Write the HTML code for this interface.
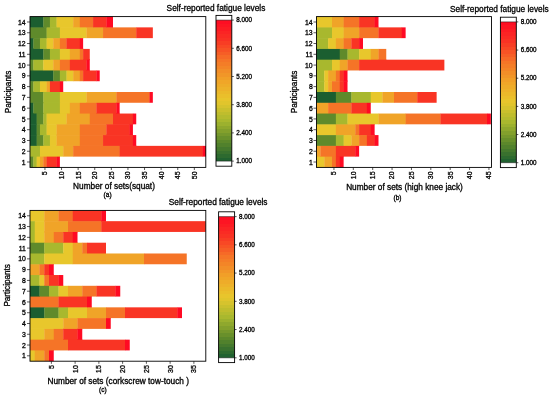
<!DOCTYPE html>
<html><head><meta charset="utf-8"><title>Self-reported fatigue levels</title>
<style>html,body{margin:0;padding:0;background:#fff}body{width:550px;height:396px;overflow:hidden}</style></head>
<body>
<svg width="550" height="396" viewBox="0 0 550 396" style="font-family:'Liberation Sans',Arial,sans-serif;display:block" fill="#000" stroke="#000" stroke-width="0.3" paint-order="stroke">
<defs><linearGradient id="cbg" x1="0" y1="0" x2="0" y2="1"><stop offset="0.00%" stop-color="#fe0e23"/><stop offset="2.50%" stop-color="#fe0e23"/><stop offset="2.50%" stop-color="#fd1523"/><stop offset="5.00%" stop-color="#fd1523"/><stop offset="5.00%" stop-color="#fc1c23"/><stop offset="7.50%" stop-color="#fc1c23"/><stop offset="7.50%" stop-color="#fb2424"/><stop offset="10.00%" stop-color="#fb2424"/><stop offset="10.00%" stop-color="#fa2b24"/><stop offset="12.50%" stop-color="#fa2b24"/><stop offset="12.50%" stop-color="#f93224"/><stop offset="15.00%" stop-color="#f93224"/><stop offset="15.00%" stop-color="#f83d24"/><stop offset="17.50%" stop-color="#f83d24"/><stop offset="17.50%" stop-color="#f84825"/><stop offset="20.00%" stop-color="#f84825"/><stop offset="20.00%" stop-color="#f75325"/><stop offset="22.50%" stop-color="#f75325"/><stop offset="22.50%" stop-color="#f65e26"/><stop offset="25.00%" stop-color="#f65e26"/><stop offset="25.00%" stop-color="#f66a27"/><stop offset="27.50%" stop-color="#f66a27"/><stop offset="27.50%" stop-color="#f57527"/><stop offset="30.00%" stop-color="#f57527"/><stop offset="30.00%" stop-color="#f47d27"/><stop offset="32.50%" stop-color="#f47d27"/><stop offset="32.50%" stop-color="#f38527"/><stop offset="35.00%" stop-color="#f38527"/><stop offset="35.00%" stop-color="#f28e28"/><stop offset="37.50%" stop-color="#f28e28"/><stop offset="37.50%" stop-color="#f19628"/><stop offset="40.00%" stop-color="#f19628"/><stop offset="40.00%" stop-color="#f19f28"/><stop offset="42.50%" stop-color="#f19f28"/><stop offset="42.50%" stop-color="#f0a628"/><stop offset="45.00%" stop-color="#f0a628"/><stop offset="45.00%" stop-color="#eeac29"/><stop offset="47.50%" stop-color="#eeac29"/><stop offset="47.50%" stop-color="#edb22a"/><stop offset="50.00%" stop-color="#edb22a"/><stop offset="50.00%" stop-color="#ebb92a"/><stop offset="52.50%" stop-color="#ebb92a"/><stop offset="52.50%" stop-color="#eabf2b"/><stop offset="55.00%" stop-color="#eabf2b"/><stop offset="55.00%" stop-color="#e8c52c"/><stop offset="57.50%" stop-color="#e8c52c"/><stop offset="57.50%" stop-color="#e1c52c"/><stop offset="60.00%" stop-color="#e1c52c"/><stop offset="60.00%" stop-color="#d6c32d"/><stop offset="62.50%" stop-color="#d6c32d"/><stop offset="62.50%" stop-color="#cac02d"/><stop offset="65.00%" stop-color="#cac02d"/><stop offset="65.00%" stop-color="#bfbd2d"/><stop offset="67.50%" stop-color="#bfbd2d"/><stop offset="67.50%" stop-color="#b4bb2e"/><stop offset="70.00%" stop-color="#b4bb2e"/><stop offset="70.00%" stop-color="#a9b82e"/><stop offset="72.50%" stop-color="#a9b82e"/><stop offset="72.50%" stop-color="#9cb12e"/><stop offset="75.00%" stop-color="#9cb12e"/><stop offset="75.00%" stop-color="#8fa82d"/><stop offset="77.50%" stop-color="#8fa82d"/><stop offset="77.50%" stop-color="#83a02c"/><stop offset="80.00%" stop-color="#83a02c"/><stop offset="80.00%" stop-color="#76982c"/><stop offset="82.50%" stop-color="#76982c"/><stop offset="82.50%" stop-color="#69902b"/><stop offset="85.00%" stop-color="#69902b"/><stop offset="85.00%" stop-color="#5c882b"/><stop offset="87.50%" stop-color="#5c882b"/><stop offset="87.50%" stop-color="#51812c"/><stop offset="90.00%" stop-color="#51812c"/><stop offset="90.00%" stop-color="#45792d"/><stop offset="92.50%" stop-color="#45792d"/><stop offset="92.50%" stop-color="#39712e"/><stop offset="95.00%" stop-color="#39712e"/><stop offset="95.00%" stop-color="#2d6a2f"/><stop offset="97.50%" stop-color="#2d6a2f"/><stop offset="97.50%" stop-color="#216230"/><stop offset="100.00%" stop-color="#216230"/></linearGradient></defs>
<rect width="550" height="396" fill="#fff" stroke="none"/>
<rect x="30.00" y="155.93" width="3.62" height="1.2" fill="#5f8a2b" stroke="none"/>
<rect x="33.32" y="155.93" width="3.62" height="1.2" fill="#a8b82e" stroke="none"/>
<rect x="36.64" y="155.93" width="3.62" height="1.2" fill="#e8c72c" stroke="none"/>
<rect x="39.96" y="155.93" width="3.62" height="1.2" fill="#f0a428" stroke="none"/>
<rect x="43.28" y="155.93" width="3.62" height="1.2" fill="#f57427" stroke="none"/>
<rect x="46.60" y="155.93" width="10.26" height="1.2" fill="#f93424" stroke="none"/>
<rect x="56.56" y="155.93" width="3.32" height="1.2" fill="#ff0a23" stroke="none"/>
<rect x="30.00" y="145.16" width="10.26" height="1.2" fill="#a8b82e" stroke="none"/>
<rect x="39.96" y="145.16" width="23.54" height="1.2" fill="#e8c72c" stroke="none"/>
<rect x="63.20" y="145.16" width="10.26" height="1.2" fill="#f0a428" stroke="none"/>
<rect x="73.16" y="145.16" width="46.78" height="1.2" fill="#f57427" stroke="none"/>
<rect x="119.64" y="145.16" width="16.60" height="1.2" fill="#f93424" stroke="none"/>
<rect x="30.00" y="134.39" width="6.94" height="1.2" fill="#1b5e30" stroke="none"/>
<rect x="36.64" y="134.39" width="6.94" height="1.2" fill="#5f8a2b" stroke="none"/>
<rect x="43.28" y="134.39" width="6.94" height="1.2" fill="#a8b82e" stroke="none"/>
<rect x="49.92" y="134.39" width="6.94" height="1.2" fill="#e8c72c" stroke="none"/>
<rect x="56.56" y="134.39" width="23.54" height="1.2" fill="#f0a428" stroke="none"/>
<rect x="79.80" y="134.39" width="23.54" height="1.2" fill="#f57427" stroke="none"/>
<rect x="103.04" y="134.39" width="29.88" height="1.2" fill="#f93424" stroke="none"/>
<rect x="30.00" y="123.61" width="6.94" height="1.2" fill="#1b5e30" stroke="none"/>
<rect x="36.64" y="123.61" width="3.62" height="1.2" fill="#5f8a2b" stroke="none"/>
<rect x="39.96" y="123.61" width="6.94" height="1.2" fill="#a8b82e" stroke="none"/>
<rect x="46.60" y="123.61" width="10.26" height="1.2" fill="#e8c72c" stroke="none"/>
<rect x="56.56" y="123.61" width="23.54" height="1.2" fill="#f0a428" stroke="none"/>
<rect x="79.80" y="123.61" width="26.86" height="1.2" fill="#f57427" stroke="none"/>
<rect x="106.36" y="123.61" width="23.54" height="1.2" fill="#f93424" stroke="none"/>
<rect x="129.60" y="123.61" width="3.32" height="1.2" fill="#ff0a23" stroke="none"/>
<rect x="30.00" y="112.84" width="6.94" height="1.2" fill="#1b5e30" stroke="none"/>
<rect x="36.64" y="112.84" width="6.94" height="1.2" fill="#5f8a2b" stroke="none"/>
<rect x="43.28" y="112.84" width="3.62" height="1.2" fill="#a8b82e" stroke="none"/>
<rect x="46.60" y="112.84" width="20.22" height="1.2" fill="#e8c72c" stroke="none"/>
<rect x="66.52" y="112.84" width="23.54" height="1.2" fill="#f0a428" stroke="none"/>
<rect x="89.76" y="112.84" width="23.54" height="1.2" fill="#f57427" stroke="none"/>
<rect x="113.00" y="112.84" width="6.64" height="1.2" fill="#f93424" stroke="none"/>
<rect x="30.00" y="102.07" width="3.62" height="1.2" fill="#1b5e30" stroke="none"/>
<rect x="33.32" y="102.07" width="10.26" height="1.2" fill="#5f8a2b" stroke="none"/>
<rect x="43.28" y="102.07" width="16.90" height="1.2" fill="#a8b82e" stroke="none"/>
<rect x="59.88" y="102.07" width="10.26" height="1.2" fill="#e8c72c" stroke="none"/>
<rect x="69.84" y="102.07" width="10.26" height="1.2" fill="#f0a428" stroke="none"/>
<rect x="79.80" y="102.07" width="16.90" height="1.2" fill="#f57427" stroke="none"/>
<rect x="96.40" y="102.07" width="20.22" height="1.2" fill="#f93424" stroke="none"/>
<rect x="116.32" y="102.07" width="3.32" height="1.2" fill="#ff0a23" stroke="none"/>
<rect x="30.00" y="91.30" width="13.58" height="1.2" fill="#5f8a2b" stroke="none"/>
<rect x="43.28" y="91.30" width="16.90" height="1.2" fill="#a8b82e" stroke="none"/>
<rect x="59.88" y="91.30" width="3.32" height="1.2" fill="#e8c72c" stroke="none"/>
<rect x="30.00" y="80.53" width="3.62" height="1.2" fill="#5f8a2b" stroke="none"/>
<rect x="33.32" y="80.53" width="6.94" height="1.2" fill="#a8b82e" stroke="none"/>
<rect x="39.96" y="80.53" width="6.94" height="1.2" fill="#e8c72c" stroke="none"/>
<rect x="46.60" y="80.53" width="3.62" height="1.2" fill="#f0a428" stroke="none"/>
<rect x="49.92" y="80.53" width="10.26" height="1.2" fill="#f93424" stroke="none"/>
<rect x="59.88" y="80.53" width="3.32" height="1.2" fill="#ff0a23" stroke="none"/>
<rect x="30.00" y="69.76" width="23.54" height="1.2" fill="#1b5e30" stroke="none"/>
<rect x="53.24" y="69.76" width="6.94" height="1.2" fill="#5f8a2b" stroke="none"/>
<rect x="59.88" y="69.76" width="6.94" height="1.2" fill="#a8b82e" stroke="none"/>
<rect x="66.52" y="69.76" width="6.94" height="1.2" fill="#e8c72c" stroke="none"/>
<rect x="73.16" y="69.76" width="6.94" height="1.2" fill="#f0a428" stroke="none"/>
<rect x="79.80" y="69.76" width="3.62" height="1.2" fill="#f57427" stroke="none"/>
<rect x="83.12" y="69.76" width="6.64" height="1.2" fill="#f93424" stroke="none"/>
<rect x="30.00" y="58.99" width="3.62" height="1.2" fill="#5f8a2b" stroke="none"/>
<rect x="33.32" y="58.99" width="10.26" height="1.2" fill="#a8b82e" stroke="none"/>
<rect x="43.28" y="58.99" width="10.26" height="1.2" fill="#e8c72c" stroke="none"/>
<rect x="53.24" y="58.99" width="6.94" height="1.2" fill="#f0a428" stroke="none"/>
<rect x="59.88" y="58.99" width="10.26" height="1.2" fill="#f57427" stroke="none"/>
<rect x="69.84" y="58.99" width="16.90" height="1.2" fill="#f93424" stroke="none"/>
<rect x="86.44" y="58.99" width="3.32" height="1.2" fill="#ff0a23" stroke="none"/>
<rect x="30.00" y="48.21" width="13.58" height="1.2" fill="#1b5e30" stroke="none"/>
<rect x="43.28" y="48.21" width="6.94" height="1.2" fill="#5f8a2b" stroke="none"/>
<rect x="49.92" y="48.21" width="10.26" height="1.2" fill="#a8b82e" stroke="none"/>
<rect x="59.88" y="48.21" width="10.26" height="1.2" fill="#e8c72c" stroke="none"/>
<rect x="69.84" y="48.21" width="10.26" height="1.2" fill="#f0a428" stroke="none"/>
<rect x="79.80" y="48.21" width="3.32" height="1.2" fill="#f57427" stroke="none"/>
<rect x="30.00" y="37.44" width="3.62" height="1.2" fill="#1b5e30" stroke="none"/>
<rect x="33.32" y="37.44" width="6.94" height="1.2" fill="#5f8a2b" stroke="none"/>
<rect x="39.96" y="37.44" width="6.94" height="1.2" fill="#a8b82e" stroke="none"/>
<rect x="46.60" y="37.44" width="6.94" height="1.2" fill="#e8c72c" stroke="none"/>
<rect x="53.24" y="37.44" width="6.94" height="1.2" fill="#f0a428" stroke="none"/>
<rect x="59.88" y="37.44" width="6.94" height="1.2" fill="#f57427" stroke="none"/>
<rect x="66.52" y="37.44" width="13.58" height="1.2" fill="#f93424" stroke="none"/>
<rect x="79.80" y="37.44" width="3.32" height="1.2" fill="#ff0a23" stroke="none"/>
<rect x="30.00" y="26.67" width="16.90" height="1.2" fill="#5f8a2b" stroke="none"/>
<rect x="46.60" y="26.67" width="13.58" height="1.2" fill="#a8b82e" stroke="none"/>
<rect x="59.88" y="26.67" width="26.86" height="1.2" fill="#e8c72c" stroke="none"/>
<rect x="86.44" y="26.67" width="16.90" height="1.2" fill="#f0a428" stroke="none"/>
<rect x="103.04" y="26.67" width="9.96" height="1.2" fill="#f57427" stroke="none"/>
<rect x="30.00" y="156.63" width="3.62" height="10.77" fill="#5f8a2b" stroke="none"/>
<rect x="33.32" y="156.63" width="3.62" height="10.77" fill="#a8b82e" stroke="none"/>
<rect x="36.64" y="156.63" width="3.62" height="10.77" fill="#e8c72c" stroke="none"/>
<rect x="39.96" y="156.63" width="3.62" height="10.77" fill="#f0a428" stroke="none"/>
<rect x="43.28" y="156.63" width="3.62" height="10.77" fill="#f57427" stroke="none"/>
<rect x="46.60" y="156.63" width="10.26" height="10.77" fill="#f93424" stroke="none"/>
<rect x="56.56" y="156.63" width="3.32" height="10.77" fill="#ff0a23" stroke="none"/>
<rect x="30.00" y="145.86" width="10.26" height="10.77" fill="#a8b82e" stroke="none"/>
<rect x="39.96" y="145.86" width="23.54" height="10.77" fill="#e8c72c" stroke="none"/>
<rect x="63.20" y="145.86" width="10.26" height="10.77" fill="#f0a428" stroke="none"/>
<rect x="73.16" y="145.86" width="46.78" height="10.77" fill="#f57427" stroke="none"/>
<rect x="119.64" y="145.86" width="83.30" height="10.77" fill="#f93424" stroke="none"/>
<rect x="202.64" y="145.86" width="3.32" height="10.77" fill="#ff0a23" stroke="none"/>
<rect x="30.00" y="135.09" width="6.94" height="10.77" fill="#1b5e30" stroke="none"/>
<rect x="36.64" y="135.09" width="6.94" height="10.77" fill="#5f8a2b" stroke="none"/>
<rect x="43.28" y="135.09" width="6.94" height="10.77" fill="#a8b82e" stroke="none"/>
<rect x="49.92" y="135.09" width="6.94" height="10.77" fill="#e8c72c" stroke="none"/>
<rect x="56.56" y="135.09" width="23.54" height="10.77" fill="#f0a428" stroke="none"/>
<rect x="79.80" y="135.09" width="23.54" height="10.77" fill="#f57427" stroke="none"/>
<rect x="103.04" y="135.09" width="30.18" height="10.77" fill="#f93424" stroke="none"/>
<rect x="132.92" y="135.09" width="3.32" height="10.77" fill="#ff0a23" stroke="none"/>
<rect x="30.00" y="124.31" width="6.94" height="10.77" fill="#1b5e30" stroke="none"/>
<rect x="36.64" y="124.31" width="3.62" height="10.77" fill="#5f8a2b" stroke="none"/>
<rect x="39.96" y="124.31" width="6.94" height="10.77" fill="#a8b82e" stroke="none"/>
<rect x="46.60" y="124.31" width="10.26" height="10.77" fill="#e8c72c" stroke="none"/>
<rect x="56.56" y="124.31" width="23.54" height="10.77" fill="#f0a428" stroke="none"/>
<rect x="79.80" y="124.31" width="26.86" height="10.77" fill="#f57427" stroke="none"/>
<rect x="106.36" y="124.31" width="23.54" height="10.77" fill="#f93424" stroke="none"/>
<rect x="129.60" y="124.31" width="3.32" height="10.77" fill="#ff0a23" stroke="none"/>
<rect x="30.00" y="113.54" width="6.94" height="10.77" fill="#1b5e30" stroke="none"/>
<rect x="36.64" y="113.54" width="6.94" height="10.77" fill="#5f8a2b" stroke="none"/>
<rect x="43.28" y="113.54" width="3.62" height="10.77" fill="#a8b82e" stroke="none"/>
<rect x="46.60" y="113.54" width="20.22" height="10.77" fill="#e8c72c" stroke="none"/>
<rect x="66.52" y="113.54" width="23.54" height="10.77" fill="#f0a428" stroke="none"/>
<rect x="89.76" y="113.54" width="23.54" height="10.77" fill="#f57427" stroke="none"/>
<rect x="113.00" y="113.54" width="20.22" height="10.77" fill="#f93424" stroke="none"/>
<rect x="132.92" y="113.54" width="3.32" height="10.77" fill="#ff0a23" stroke="none"/>
<rect x="30.00" y="102.77" width="3.62" height="10.77" fill="#1b5e30" stroke="none"/>
<rect x="33.32" y="102.77" width="10.26" height="10.77" fill="#5f8a2b" stroke="none"/>
<rect x="43.28" y="102.77" width="16.90" height="10.77" fill="#a8b82e" stroke="none"/>
<rect x="59.88" y="102.77" width="10.26" height="10.77" fill="#e8c72c" stroke="none"/>
<rect x="69.84" y="102.77" width="10.26" height="10.77" fill="#f0a428" stroke="none"/>
<rect x="79.80" y="102.77" width="16.90" height="10.77" fill="#f57427" stroke="none"/>
<rect x="96.40" y="102.77" width="20.22" height="10.77" fill="#f93424" stroke="none"/>
<rect x="116.32" y="102.77" width="3.32" height="10.77" fill="#ff0a23" stroke="none"/>
<rect x="30.00" y="92.00" width="13.58" height="10.77" fill="#5f8a2b" stroke="none"/>
<rect x="43.28" y="92.00" width="16.90" height="10.77" fill="#a8b82e" stroke="none"/>
<rect x="59.88" y="92.00" width="26.86" height="10.77" fill="#e8c72c" stroke="none"/>
<rect x="86.44" y="92.00" width="30.18" height="10.77" fill="#f0a428" stroke="none"/>
<rect x="116.32" y="92.00" width="33.50" height="10.77" fill="#f57427" stroke="none"/>
<rect x="149.52" y="92.00" width="3.32" height="10.77" fill="#ff0a23" stroke="none"/>
<rect x="30.00" y="81.23" width="3.62" height="10.77" fill="#5f8a2b" stroke="none"/>
<rect x="33.32" y="81.23" width="6.94" height="10.77" fill="#a8b82e" stroke="none"/>
<rect x="39.96" y="81.23" width="6.94" height="10.77" fill="#e8c72c" stroke="none"/>
<rect x="46.60" y="81.23" width="3.62" height="10.77" fill="#f0a428" stroke="none"/>
<rect x="49.92" y="81.23" width="10.26" height="10.77" fill="#f93424" stroke="none"/>
<rect x="59.88" y="81.23" width="3.32" height="10.77" fill="#ff0a23" stroke="none"/>
<rect x="30.00" y="70.46" width="23.54" height="10.77" fill="#1b5e30" stroke="none"/>
<rect x="53.24" y="70.46" width="6.94" height="10.77" fill="#5f8a2b" stroke="none"/>
<rect x="59.88" y="70.46" width="6.94" height="10.77" fill="#a8b82e" stroke="none"/>
<rect x="66.52" y="70.46" width="6.94" height="10.77" fill="#e8c72c" stroke="none"/>
<rect x="73.16" y="70.46" width="6.94" height="10.77" fill="#f0a428" stroke="none"/>
<rect x="79.80" y="70.46" width="3.62" height="10.77" fill="#f57427" stroke="none"/>
<rect x="83.12" y="70.46" width="13.58" height="10.77" fill="#f93424" stroke="none"/>
<rect x="96.40" y="70.46" width="3.32" height="10.77" fill="#ff0a23" stroke="none"/>
<rect x="30.00" y="59.69" width="3.62" height="10.77" fill="#5f8a2b" stroke="none"/>
<rect x="33.32" y="59.69" width="10.26" height="10.77" fill="#a8b82e" stroke="none"/>
<rect x="43.28" y="59.69" width="10.26" height="10.77" fill="#e8c72c" stroke="none"/>
<rect x="53.24" y="59.69" width="6.94" height="10.77" fill="#f0a428" stroke="none"/>
<rect x="59.88" y="59.69" width="10.26" height="10.77" fill="#f57427" stroke="none"/>
<rect x="69.84" y="59.69" width="16.90" height="10.77" fill="#f93424" stroke="none"/>
<rect x="86.44" y="59.69" width="3.32" height="10.77" fill="#ff0a23" stroke="none"/>
<rect x="30.00" y="48.91" width="13.58" height="10.77" fill="#1b5e30" stroke="none"/>
<rect x="43.28" y="48.91" width="6.94" height="10.77" fill="#5f8a2b" stroke="none"/>
<rect x="49.92" y="48.91" width="10.26" height="10.77" fill="#a8b82e" stroke="none"/>
<rect x="59.88" y="48.91" width="10.26" height="10.77" fill="#e8c72c" stroke="none"/>
<rect x="69.84" y="48.91" width="10.26" height="10.77" fill="#f0a428" stroke="none"/>
<rect x="79.80" y="48.91" width="3.62" height="10.77" fill="#f57427" stroke="none"/>
<rect x="83.12" y="48.91" width="6.64" height="10.77" fill="#f93424" stroke="none"/>
<rect x="30.00" y="38.14" width="3.62" height="10.77" fill="#1b5e30" stroke="none"/>
<rect x="33.32" y="38.14" width="6.94" height="10.77" fill="#5f8a2b" stroke="none"/>
<rect x="39.96" y="38.14" width="6.94" height="10.77" fill="#a8b82e" stroke="none"/>
<rect x="46.60" y="38.14" width="6.94" height="10.77" fill="#e8c72c" stroke="none"/>
<rect x="53.24" y="38.14" width="6.94" height="10.77" fill="#f0a428" stroke="none"/>
<rect x="59.88" y="38.14" width="6.94" height="10.77" fill="#f57427" stroke="none"/>
<rect x="66.52" y="38.14" width="13.58" height="10.77" fill="#f93424" stroke="none"/>
<rect x="79.80" y="38.14" width="3.32" height="10.77" fill="#ff0a23" stroke="none"/>
<rect x="30.00" y="27.37" width="16.90" height="10.77" fill="#5f8a2b" stroke="none"/>
<rect x="46.60" y="27.37" width="13.58" height="10.77" fill="#a8b82e" stroke="none"/>
<rect x="59.88" y="27.37" width="26.86" height="10.77" fill="#e8c72c" stroke="none"/>
<rect x="86.44" y="27.37" width="16.90" height="10.77" fill="#f0a428" stroke="none"/>
<rect x="103.04" y="27.37" width="33.50" height="10.77" fill="#f57427" stroke="none"/>
<rect x="136.24" y="27.37" width="16.60" height="10.77" fill="#f93424" stroke="none"/>
<rect x="30.00" y="16.60" width="13.58" height="10.77" fill="#1b5e30" stroke="none"/>
<rect x="43.28" y="16.60" width="6.94" height="10.77" fill="#5f8a2b" stroke="none"/>
<rect x="49.92" y="16.60" width="6.94" height="10.77" fill="#a8b82e" stroke="none"/>
<rect x="56.56" y="16.60" width="16.90" height="10.77" fill="#e8c72c" stroke="none"/>
<rect x="73.16" y="16.60" width="6.94" height="10.77" fill="#f0a428" stroke="none"/>
<rect x="79.80" y="16.60" width="13.58" height="10.77" fill="#f57427" stroke="none"/>
<rect x="93.08" y="16.60" width="13.58" height="10.77" fill="#f93424" stroke="none"/>
<rect x="106.36" y="16.60" width="6.64" height="10.77" fill="#ff0a23" stroke="none"/>
<rect x="30.0" y="16.6" width="175.8" height="150.8" fill="none" stroke="#000" stroke-width="0.9"/>
<line x1="27.0" y1="162.01" x2="30.0" y2="162.01" stroke="#111" stroke-width="0.7"/>
<text x="25.60" y="164.61" text-anchor="end" font-size="6.85">1</text>
<line x1="27.0" y1="151.24" x2="30.0" y2="151.24" stroke="#111" stroke-width="0.7"/>
<text x="25.60" y="153.84" text-anchor="end" font-size="6.85">2</text>
<line x1="27.0" y1="140.47" x2="30.0" y2="140.47" stroke="#111" stroke-width="0.7"/>
<text x="25.60" y="143.07" text-anchor="end" font-size="6.85">3</text>
<line x1="27.0" y1="129.70" x2="30.0" y2="129.70" stroke="#111" stroke-width="0.7"/>
<text x="25.60" y="132.30" text-anchor="end" font-size="6.85">4</text>
<line x1="27.0" y1="118.93" x2="30.0" y2="118.93" stroke="#111" stroke-width="0.7"/>
<text x="25.60" y="121.53" text-anchor="end" font-size="6.85">5</text>
<line x1="27.0" y1="108.16" x2="30.0" y2="108.16" stroke="#111" stroke-width="0.7"/>
<text x="25.60" y="110.76" text-anchor="end" font-size="6.85">6</text>
<line x1="27.0" y1="97.39" x2="30.0" y2="97.39" stroke="#111" stroke-width="0.7"/>
<text x="25.60" y="99.99" text-anchor="end" font-size="6.85">7</text>
<line x1="27.0" y1="86.61" x2="30.0" y2="86.61" stroke="#111" stroke-width="0.7"/>
<text x="25.60" y="89.21" text-anchor="end" font-size="6.85">8</text>
<line x1="27.0" y1="75.84" x2="30.0" y2="75.84" stroke="#111" stroke-width="0.7"/>
<text x="25.60" y="78.44" text-anchor="end" font-size="6.85">9</text>
<line x1="27.0" y1="65.07" x2="30.0" y2="65.07" stroke="#111" stroke-width="0.7"/>
<text x="25.60" y="67.67" text-anchor="end" font-size="6.85">10</text>
<line x1="27.0" y1="54.30" x2="30.0" y2="54.30" stroke="#111" stroke-width="0.7"/>
<text x="25.60" y="56.90" text-anchor="end" font-size="6.85">11</text>
<line x1="27.0" y1="43.53" x2="30.0" y2="43.53" stroke="#111" stroke-width="0.7"/>
<text x="25.60" y="46.13" text-anchor="end" font-size="6.85">12</text>
<line x1="27.0" y1="32.76" x2="30.0" y2="32.76" stroke="#111" stroke-width="0.7"/>
<text x="25.60" y="35.36" text-anchor="end" font-size="6.85">13</text>
<line x1="27.0" y1="21.99" x2="30.0" y2="21.99" stroke="#111" stroke-width="0.7"/>
<text x="25.60" y="24.59" text-anchor="end" font-size="6.85">14</text>
<line x1="44.94" y1="167.4" x2="44.94" y2="170.0" stroke="#111" stroke-width="0.7"/>
<text transform="translate(47.34,171.4) rotate(-90)" text-anchor="end" font-size="7">5</text>
<line x1="61.54" y1="167.4" x2="61.54" y2="170.0" stroke="#111" stroke-width="0.7"/>
<text transform="translate(63.94,171.4) rotate(-90)" text-anchor="end" font-size="7">10</text>
<line x1="78.14" y1="167.4" x2="78.14" y2="170.0" stroke="#111" stroke-width="0.7"/>
<text transform="translate(80.54,171.4) rotate(-90)" text-anchor="end" font-size="7">15</text>
<line x1="94.74" y1="167.4" x2="94.74" y2="170.0" stroke="#111" stroke-width="0.7"/>
<text transform="translate(97.14,171.4) rotate(-90)" text-anchor="end" font-size="7">20</text>
<line x1="111.34" y1="167.4" x2="111.34" y2="170.0" stroke="#111" stroke-width="0.7"/>
<text transform="translate(113.74,171.4) rotate(-90)" text-anchor="end" font-size="7">25</text>
<line x1="127.94" y1="167.4" x2="127.94" y2="170.0" stroke="#111" stroke-width="0.7"/>
<text transform="translate(130.34,171.4) rotate(-90)" text-anchor="end" font-size="7">30</text>
<line x1="144.54" y1="167.4" x2="144.54" y2="170.0" stroke="#111" stroke-width="0.7"/>
<text transform="translate(146.94,171.4) rotate(-90)" text-anchor="end" font-size="7">35</text>
<line x1="161.14" y1="167.4" x2="161.14" y2="170.0" stroke="#111" stroke-width="0.7"/>
<text transform="translate(163.54,171.4) rotate(-90)" text-anchor="end" font-size="7">40</text>
<line x1="177.74" y1="167.4" x2="177.74" y2="170.0" stroke="#111" stroke-width="0.7"/>
<text transform="translate(180.14,171.4) rotate(-90)" text-anchor="end" font-size="7">45</text>
<line x1="194.34" y1="167.4" x2="194.34" y2="170.0" stroke="#111" stroke-width="0.7"/>
<text transform="translate(196.74,171.4) rotate(-90)" text-anchor="end" font-size="7">50</text>
<text x="114" y="189.4" text-anchor="middle" font-size="8.28">Number of sets(squat)</text>
<text x="107.6" y="196.8" text-anchor="middle" font-size="6.5">(a)</text>
<text transform="translate(10.8,92.0) rotate(-90)" text-anchor="middle" font-size="8.15">Participants</text>
<text x="166.6" y="10.7" font-size="8.3">Self-reported fatigue levels</text>
<rect x="216.0" y="15.4" width="15.800000000000011" height="150.79999999999998" fill="#fff" stroke="none"/>
<rect x="216.0" y="20.1" width="15.800000000000011" height="141.0" fill="url(#cbg)" stroke="none"/>
<rect x="216.0" y="15.4" width="15.800000000000011" height="150.79999999999998" fill="none" stroke="#000" stroke-width="0.9"/>
<line x1="216.0" y1="20.1" x2="231.8" y2="20.1" stroke="#111" stroke-width="0.5"/>
<line x1="216.0" y1="161.1" x2="231.8" y2="161.1" stroke="#111" stroke-width="0.5"/>
<line x1="231.8" y1="20.10" x2="233.8" y2="20.10" stroke="#111" stroke-width="0.7"/>
<text x="236.3" y="22.30" font-size="6.3">8.000</text>
<line x1="231.8" y1="48.30" x2="233.8" y2="48.30" stroke="#111" stroke-width="0.7"/>
<text x="236.3" y="50.50" font-size="6.3">6.600</text>
<line x1="231.8" y1="76.50" x2="233.8" y2="76.50" stroke="#111" stroke-width="0.7"/>
<text x="236.3" y="78.70" font-size="6.3">5.200</text>
<line x1="231.8" y1="104.70" x2="233.8" y2="104.70" stroke="#111" stroke-width="0.7"/>
<text x="236.3" y="106.90" font-size="6.3">3.800</text>
<line x1="231.8" y1="132.90" x2="233.8" y2="132.90" stroke="#111" stroke-width="0.7"/>
<text x="236.3" y="135.10" font-size="6.3">2.400</text>
<line x1="231.8" y1="161.10" x2="233.8" y2="161.10" stroke="#111" stroke-width="0.7"/>
<text x="236.3" y="163.30" font-size="6.3">1.000</text>
<rect x="316.50" y="155.93" width="8.05" height="1.2" fill="#e8c72c" stroke="none"/>
<rect x="324.25" y="155.93" width="8.05" height="1.2" fill="#f0a428" stroke="none"/>
<rect x="332.00" y="155.93" width="4.17" height="1.2" fill="#f57427" stroke="none"/>
<rect x="335.88" y="155.93" width="4.17" height="1.2" fill="#f93424" stroke="none"/>
<rect x="339.75" y="155.93" width="3.88" height="1.2" fill="#ff0a23" stroke="none"/>
<rect x="316.50" y="145.16" width="4.17" height="1.2" fill="#f0a428" stroke="none"/>
<rect x="320.38" y="145.16" width="15.80" height="1.2" fill="#f57427" stroke="none"/>
<rect x="335.88" y="145.16" width="19.68" height="1.2" fill="#f93424" stroke="none"/>
<rect x="355.25" y="145.16" width="3.88" height="1.2" fill="#ff0a23" stroke="none"/>
<rect x="316.50" y="134.39" width="19.68" height="1.2" fill="#5f8a2b" stroke="none"/>
<rect x="335.88" y="134.39" width="8.05" height="1.2" fill="#a8b82e" stroke="none"/>
<rect x="343.62" y="134.39" width="8.05" height="1.2" fill="#e8c72c" stroke="none"/>
<rect x="351.38" y="134.39" width="8.05" height="1.2" fill="#f0a428" stroke="none"/>
<rect x="359.12" y="134.39" width="8.05" height="1.2" fill="#f57427" stroke="none"/>
<rect x="366.88" y="134.39" width="7.75" height="1.2" fill="#f93424" stroke="none"/>
<rect x="316.50" y="123.61" width="19.68" height="1.2" fill="#e8c72c" stroke="none"/>
<rect x="335.88" y="123.61" width="19.68" height="1.2" fill="#f0a428" stroke="none"/>
<rect x="355.25" y="123.61" width="4.17" height="1.2" fill="#f57427" stroke="none"/>
<rect x="359.12" y="123.61" width="11.93" height="1.2" fill="#f93424" stroke="none"/>
<rect x="370.75" y="123.61" width="3.88" height="1.2" fill="#ff0a23" stroke="none"/>
<rect x="316.50" y="112.84" width="19.68" height="1.2" fill="#5f8a2b" stroke="none"/>
<rect x="335.88" y="112.84" width="11.93" height="1.2" fill="#a8b82e" stroke="none"/>
<rect x="347.50" y="112.84" width="23.25" height="1.2" fill="#e8c72c" stroke="none"/>
<rect x="316.50" y="102.07" width="11.93" height="1.2" fill="#f0a428" stroke="none"/>
<rect x="328.12" y="102.07" width="23.55" height="1.2" fill="#f57427" stroke="none"/>
<rect x="351.38" y="102.07" width="15.80" height="1.2" fill="#f93424" stroke="none"/>
<rect x="366.88" y="102.07" width="3.88" height="1.2" fill="#ff0a23" stroke="none"/>
<rect x="316.50" y="91.30" width="19.68" height="1.2" fill="#1b5e30" stroke="none"/>
<rect x="335.88" y="91.30" width="11.62" height="1.2" fill="#5f8a2b" stroke="none"/>
<rect x="316.50" y="80.53" width="8.05" height="1.2" fill="#a8b82e" stroke="none"/>
<rect x="324.25" y="80.53" width="4.17" height="1.2" fill="#e8c72c" stroke="none"/>
<rect x="328.12" y="80.53" width="4.17" height="1.2" fill="#f0a428" stroke="none"/>
<rect x="332.00" y="80.53" width="8.05" height="1.2" fill="#f57427" stroke="none"/>
<rect x="339.75" y="80.53" width="4.17" height="1.2" fill="#f93424" stroke="none"/>
<rect x="343.62" y="80.53" width="3.88" height="1.2" fill="#ff0a23" stroke="none"/>
<rect x="316.50" y="69.76" width="8.05" height="1.2" fill="#a8b82e" stroke="none"/>
<rect x="324.25" y="69.76" width="4.17" height="1.2" fill="#e8c72c" stroke="none"/>
<rect x="328.12" y="69.76" width="8.05" height="1.2" fill="#f0a428" stroke="none"/>
<rect x="335.88" y="69.76" width="4.17" height="1.2" fill="#f57427" stroke="none"/>
<rect x="339.75" y="69.76" width="4.17" height="1.2" fill="#f93424" stroke="none"/>
<rect x="343.62" y="69.76" width="3.88" height="1.2" fill="#ff0a23" stroke="none"/>
<rect x="316.50" y="58.99" width="15.80" height="1.2" fill="#a8b82e" stroke="none"/>
<rect x="332.00" y="58.99" width="8.05" height="1.2" fill="#e8c72c" stroke="none"/>
<rect x="339.75" y="58.99" width="8.05" height="1.2" fill="#f0a428" stroke="none"/>
<rect x="347.50" y="58.99" width="11.93" height="1.2" fill="#f57427" stroke="none"/>
<rect x="359.12" y="58.99" width="27.12" height="1.2" fill="#f93424" stroke="none"/>
<rect x="316.50" y="48.21" width="23.55" height="1.2" fill="#1b5e30" stroke="none"/>
<rect x="339.75" y="48.21" width="8.05" height="1.2" fill="#5f8a2b" stroke="none"/>
<rect x="347.50" y="48.21" width="11.93" height="1.2" fill="#a8b82e" stroke="none"/>
<rect x="359.12" y="48.21" width="3.88" height="1.2" fill="#e8c72c" stroke="none"/>
<rect x="316.50" y="37.44" width="11.93" height="1.2" fill="#a8b82e" stroke="none"/>
<rect x="328.12" y="37.44" width="8.05" height="1.2" fill="#e8c72c" stroke="none"/>
<rect x="335.88" y="37.44" width="8.05" height="1.2" fill="#f0a428" stroke="none"/>
<rect x="343.62" y="37.44" width="8.05" height="1.2" fill="#f57427" stroke="none"/>
<rect x="351.38" y="37.44" width="8.05" height="1.2" fill="#f93424" stroke="none"/>
<rect x="359.12" y="37.44" width="3.88" height="1.2" fill="#ff0a23" stroke="none"/>
<rect x="316.50" y="26.67" width="15.80" height="1.2" fill="#a8b82e" stroke="none"/>
<rect x="332.00" y="26.67" width="11.93" height="1.2" fill="#e8c72c" stroke="none"/>
<rect x="343.62" y="26.67" width="15.80" height="1.2" fill="#f0a428" stroke="none"/>
<rect x="359.12" y="26.67" width="19.38" height="1.2" fill="#f57427" stroke="none"/>
<rect x="316.50" y="156.63" width="8.05" height="10.77" fill="#e8c72c" stroke="none"/>
<rect x="324.25" y="156.63" width="8.05" height="10.77" fill="#f0a428" stroke="none"/>
<rect x="332.00" y="156.63" width="4.17" height="10.77" fill="#f57427" stroke="none"/>
<rect x="335.88" y="156.63" width="4.17" height="10.77" fill="#f93424" stroke="none"/>
<rect x="339.75" y="156.63" width="3.88" height="10.77" fill="#ff0a23" stroke="none"/>
<rect x="316.50" y="145.86" width="4.17" height="10.77" fill="#f0a428" stroke="none"/>
<rect x="320.38" y="145.86" width="15.80" height="10.77" fill="#f57427" stroke="none"/>
<rect x="335.88" y="145.86" width="19.68" height="10.77" fill="#f93424" stroke="none"/>
<rect x="355.25" y="145.86" width="3.88" height="10.77" fill="#ff0a23" stroke="none"/>
<rect x="316.50" y="135.09" width="19.68" height="10.77" fill="#5f8a2b" stroke="none"/>
<rect x="335.88" y="135.09" width="8.05" height="10.77" fill="#a8b82e" stroke="none"/>
<rect x="343.62" y="135.09" width="8.05" height="10.77" fill="#e8c72c" stroke="none"/>
<rect x="351.38" y="135.09" width="8.05" height="10.77" fill="#f0a428" stroke="none"/>
<rect x="359.12" y="135.09" width="8.05" height="10.77" fill="#f57427" stroke="none"/>
<rect x="366.88" y="135.09" width="8.05" height="10.77" fill="#f93424" stroke="none"/>
<rect x="374.62" y="135.09" width="3.88" height="10.77" fill="#ff0a23" stroke="none"/>
<rect x="316.50" y="124.31" width="19.68" height="10.77" fill="#e8c72c" stroke="none"/>
<rect x="335.88" y="124.31" width="19.68" height="10.77" fill="#f0a428" stroke="none"/>
<rect x="355.25" y="124.31" width="4.17" height="10.77" fill="#f57427" stroke="none"/>
<rect x="359.12" y="124.31" width="11.93" height="10.77" fill="#f93424" stroke="none"/>
<rect x="370.75" y="124.31" width="3.88" height="10.77" fill="#ff0a23" stroke="none"/>
<rect x="316.50" y="113.54" width="19.68" height="10.77" fill="#5f8a2b" stroke="none"/>
<rect x="335.88" y="113.54" width="11.93" height="10.77" fill="#a8b82e" stroke="none"/>
<rect x="347.50" y="113.54" width="31.30" height="10.77" fill="#e8c72c" stroke="none"/>
<rect x="378.50" y="113.54" width="27.43" height="10.77" fill="#f0a428" stroke="none"/>
<rect x="405.62" y="113.54" width="35.17" height="10.77" fill="#f57427" stroke="none"/>
<rect x="440.50" y="113.54" width="46.80" height="10.77" fill="#f93424" stroke="none"/>
<rect x="487.00" y="113.54" width="3.88" height="10.77" fill="#ff0a23" stroke="none"/>
<rect x="316.50" y="102.77" width="11.93" height="10.77" fill="#f0a428" stroke="none"/>
<rect x="328.12" y="102.77" width="23.55" height="10.77" fill="#f57427" stroke="none"/>
<rect x="351.38" y="102.77" width="15.80" height="10.77" fill="#f93424" stroke="none"/>
<rect x="366.88" y="102.77" width="3.88" height="10.77" fill="#ff0a23" stroke="none"/>
<rect x="316.50" y="92.00" width="19.68" height="10.77" fill="#1b5e30" stroke="none"/>
<rect x="335.88" y="92.00" width="15.80" height="10.77" fill="#5f8a2b" stroke="none"/>
<rect x="351.38" y="92.00" width="19.68" height="10.77" fill="#a8b82e" stroke="none"/>
<rect x="370.75" y="92.00" width="11.93" height="10.77" fill="#e8c72c" stroke="none"/>
<rect x="382.38" y="92.00" width="11.93" height="10.77" fill="#f0a428" stroke="none"/>
<rect x="394.00" y="92.00" width="23.55" height="10.77" fill="#f57427" stroke="none"/>
<rect x="417.25" y="92.00" width="19.38" height="10.77" fill="#f93424" stroke="none"/>
<rect x="316.50" y="81.23" width="8.05" height="10.77" fill="#a8b82e" stroke="none"/>
<rect x="324.25" y="81.23" width="4.17" height="10.77" fill="#e8c72c" stroke="none"/>
<rect x="328.12" y="81.23" width="4.17" height="10.77" fill="#f0a428" stroke="none"/>
<rect x="332.00" y="81.23" width="8.05" height="10.77" fill="#f57427" stroke="none"/>
<rect x="339.75" y="81.23" width="4.17" height="10.77" fill="#f93424" stroke="none"/>
<rect x="343.62" y="81.23" width="3.88" height="10.77" fill="#ff0a23" stroke="none"/>
<rect x="316.50" y="70.46" width="8.05" height="10.77" fill="#a8b82e" stroke="none"/>
<rect x="324.25" y="70.46" width="4.17" height="10.77" fill="#e8c72c" stroke="none"/>
<rect x="328.12" y="70.46" width="8.05" height="10.77" fill="#f0a428" stroke="none"/>
<rect x="335.88" y="70.46" width="4.17" height="10.77" fill="#f57427" stroke="none"/>
<rect x="339.75" y="70.46" width="4.17" height="10.77" fill="#f93424" stroke="none"/>
<rect x="343.62" y="70.46" width="3.88" height="10.77" fill="#ff0a23" stroke="none"/>
<rect x="316.50" y="59.69" width="15.80" height="10.77" fill="#a8b82e" stroke="none"/>
<rect x="332.00" y="59.69" width="8.05" height="10.77" fill="#e8c72c" stroke="none"/>
<rect x="339.75" y="59.69" width="8.05" height="10.77" fill="#f0a428" stroke="none"/>
<rect x="347.50" y="59.69" width="11.93" height="10.77" fill="#f57427" stroke="none"/>
<rect x="359.12" y="59.69" width="85.25" height="10.77" fill="#f93424" stroke="none"/>
<rect x="316.50" y="48.91" width="23.55" height="10.77" fill="#1b5e30" stroke="none"/>
<rect x="339.75" y="48.91" width="8.05" height="10.77" fill="#5f8a2b" stroke="none"/>
<rect x="347.50" y="48.91" width="11.93" height="10.77" fill="#a8b82e" stroke="none"/>
<rect x="359.12" y="48.91" width="11.93" height="10.77" fill="#e8c72c" stroke="none"/>
<rect x="370.75" y="48.91" width="8.05" height="10.77" fill="#f0a428" stroke="none"/>
<rect x="378.50" y="48.91" width="7.75" height="10.77" fill="#f57427" stroke="none"/>
<rect x="316.50" y="38.14" width="11.93" height="10.77" fill="#a8b82e" stroke="none"/>
<rect x="328.12" y="38.14" width="8.05" height="10.77" fill="#e8c72c" stroke="none"/>
<rect x="335.88" y="38.14" width="8.05" height="10.77" fill="#f0a428" stroke="none"/>
<rect x="343.62" y="38.14" width="8.05" height="10.77" fill="#f57427" stroke="none"/>
<rect x="351.38" y="38.14" width="8.05" height="10.77" fill="#f93424" stroke="none"/>
<rect x="359.12" y="38.14" width="3.88" height="10.77" fill="#ff0a23" stroke="none"/>
<rect x="316.50" y="27.37" width="15.80" height="10.77" fill="#a8b82e" stroke="none"/>
<rect x="332.00" y="27.37" width="11.93" height="10.77" fill="#e8c72c" stroke="none"/>
<rect x="343.62" y="27.37" width="15.80" height="10.77" fill="#f0a428" stroke="none"/>
<rect x="359.12" y="27.37" width="19.68" height="10.77" fill="#f57427" stroke="none"/>
<rect x="378.50" y="27.37" width="23.55" height="10.77" fill="#f93424" stroke="none"/>
<rect x="401.75" y="27.37" width="3.88" height="10.77" fill="#ff0a23" stroke="none"/>
<rect x="316.50" y="16.60" width="15.80" height="10.77" fill="#e8c72c" stroke="none"/>
<rect x="332.00" y="16.60" width="11.93" height="10.77" fill="#f0a428" stroke="none"/>
<rect x="343.62" y="16.60" width="15.80" height="10.77" fill="#f57427" stroke="none"/>
<rect x="359.12" y="16.60" width="15.80" height="10.77" fill="#f93424" stroke="none"/>
<rect x="374.62" y="16.60" width="3.88" height="10.77" fill="#ff0a23" stroke="none"/>
<rect x="316.5" y="16.6" width="175.0" height="150.8" fill="none" stroke="#000" stroke-width="0.9"/>
<line x1="313.5" y1="162.01" x2="316.5" y2="162.01" stroke="#111" stroke-width="0.7"/>
<text x="312.70" y="164.61" text-anchor="end" font-size="6.85">1</text>
<line x1="313.5" y1="151.24" x2="316.5" y2="151.24" stroke="#111" stroke-width="0.7"/>
<text x="312.70" y="153.84" text-anchor="end" font-size="6.85">2</text>
<line x1="313.5" y1="140.47" x2="316.5" y2="140.47" stroke="#111" stroke-width="0.7"/>
<text x="312.70" y="143.07" text-anchor="end" font-size="6.85">3</text>
<line x1="313.5" y1="129.70" x2="316.5" y2="129.70" stroke="#111" stroke-width="0.7"/>
<text x="312.70" y="132.30" text-anchor="end" font-size="6.85">4</text>
<line x1="313.5" y1="118.93" x2="316.5" y2="118.93" stroke="#111" stroke-width="0.7"/>
<text x="312.70" y="121.53" text-anchor="end" font-size="6.85">5</text>
<line x1="313.5" y1="108.16" x2="316.5" y2="108.16" stroke="#111" stroke-width="0.7"/>
<text x="312.70" y="110.76" text-anchor="end" font-size="6.85">6</text>
<line x1="313.5" y1="97.39" x2="316.5" y2="97.39" stroke="#111" stroke-width="0.7"/>
<text x="312.70" y="99.99" text-anchor="end" font-size="6.85">7</text>
<line x1="313.5" y1="86.61" x2="316.5" y2="86.61" stroke="#111" stroke-width="0.7"/>
<text x="312.70" y="89.21" text-anchor="end" font-size="6.85">8</text>
<line x1="313.5" y1="75.84" x2="316.5" y2="75.84" stroke="#111" stroke-width="0.7"/>
<text x="312.70" y="78.44" text-anchor="end" font-size="6.85">9</text>
<line x1="313.5" y1="65.07" x2="316.5" y2="65.07" stroke="#111" stroke-width="0.7"/>
<text x="312.70" y="67.67" text-anchor="end" font-size="6.85">10</text>
<line x1="313.5" y1="54.30" x2="316.5" y2="54.30" stroke="#111" stroke-width="0.7"/>
<text x="312.70" y="56.90" text-anchor="end" font-size="6.85">11</text>
<line x1="313.5" y1="43.53" x2="316.5" y2="43.53" stroke="#111" stroke-width="0.7"/>
<text x="312.70" y="46.13" text-anchor="end" font-size="6.85">12</text>
<line x1="313.5" y1="32.76" x2="316.5" y2="32.76" stroke="#111" stroke-width="0.7"/>
<text x="312.70" y="35.36" text-anchor="end" font-size="6.85">13</text>
<line x1="313.5" y1="21.99" x2="316.5" y2="21.99" stroke="#111" stroke-width="0.7"/>
<text x="312.70" y="24.59" text-anchor="end" font-size="6.85">14</text>
<line x1="333.94" y1="167.4" x2="333.94" y2="170.0" stroke="#111" stroke-width="0.7"/>
<text transform="translate(336.34,171.4) rotate(-90)" text-anchor="end" font-size="7">5</text>
<line x1="353.31" y1="167.4" x2="353.31" y2="170.0" stroke="#111" stroke-width="0.7"/>
<text transform="translate(355.71,171.4) rotate(-90)" text-anchor="end" font-size="7">10</text>
<line x1="372.69" y1="167.4" x2="372.69" y2="170.0" stroke="#111" stroke-width="0.7"/>
<text transform="translate(375.09,171.4) rotate(-90)" text-anchor="end" font-size="7">15</text>
<line x1="392.06" y1="167.4" x2="392.06" y2="170.0" stroke="#111" stroke-width="0.7"/>
<text transform="translate(394.46,171.4) rotate(-90)" text-anchor="end" font-size="7">20</text>
<line x1="411.44" y1="167.4" x2="411.44" y2="170.0" stroke="#111" stroke-width="0.7"/>
<text transform="translate(413.84,171.4) rotate(-90)" text-anchor="end" font-size="7">25</text>
<line x1="430.81" y1="167.4" x2="430.81" y2="170.0" stroke="#111" stroke-width="0.7"/>
<text transform="translate(433.21,171.4) rotate(-90)" text-anchor="end" font-size="7">30</text>
<line x1="450.19" y1="167.4" x2="450.19" y2="170.0" stroke="#111" stroke-width="0.7"/>
<text transform="translate(452.59,171.4) rotate(-90)" text-anchor="end" font-size="7">35</text>
<line x1="469.56" y1="167.4" x2="469.56" y2="170.0" stroke="#111" stroke-width="0.7"/>
<text transform="translate(471.96,171.4) rotate(-90)" text-anchor="end" font-size="7">40</text>
<line x1="488.94" y1="167.4" x2="488.94" y2="170.0" stroke="#111" stroke-width="0.7"/>
<text transform="translate(491.34,171.4) rotate(-90)" text-anchor="end" font-size="7">45</text>
<text x="404.5" y="190.2" text-anchor="middle" font-size="8.28">Number of sets (high knee jack)</text>
<text x="397.5" y="200" text-anchor="middle" font-size="6.5">(b)</text>
<text transform="translate(296.5,92.0) rotate(-90)" text-anchor="middle" font-size="8.15">Participants</text>
<text x="450.0" y="12.3" font-size="8.3">Self-reported fatigue levels</text>
<rect x="500.4" y="17.2" width="15.899999999999977" height="150.4" fill="#fff" stroke="none"/>
<rect x="500.4" y="21.9" width="15.899999999999977" height="140.79999999999998" fill="url(#cbg)" stroke="none"/>
<rect x="500.4" y="17.2" width="15.899999999999977" height="150.4" fill="none" stroke="#000" stroke-width="0.9"/>
<line x1="500.4" y1="21.9" x2="516.3" y2="21.9" stroke="#111" stroke-width="0.5"/>
<line x1="500.4" y1="162.7" x2="516.3" y2="162.7" stroke="#111" stroke-width="0.5"/>
<line x1="516.3" y1="21.90" x2="518.3" y2="21.90" stroke="#111" stroke-width="0.7"/>
<text x="520.8" y="24.10" font-size="6.3">8.000</text>
<line x1="516.3" y1="50.06" x2="518.3" y2="50.06" stroke="#111" stroke-width="0.7"/>
<text x="520.8" y="52.26" font-size="6.3">6.600</text>
<line x1="516.3" y1="78.22" x2="518.3" y2="78.22" stroke="#111" stroke-width="0.7"/>
<text x="520.8" y="80.42" font-size="6.3">5.200</text>
<line x1="516.3" y1="106.38" x2="518.3" y2="106.38" stroke="#111" stroke-width="0.7"/>
<text x="520.8" y="108.58" font-size="6.3">3.800</text>
<line x1="516.3" y1="134.54" x2="518.3" y2="134.54" stroke="#111" stroke-width="0.7"/>
<text x="520.8" y="136.74" font-size="6.3">2.400</text>
<line x1="516.3" y1="162.70" x2="518.3" y2="162.70" stroke="#111" stroke-width="0.7"/>
<text x="520.8" y="164.90" font-size="6.3">1.000</text>
<rect x="30.00" y="349.73" width="5.05" height="1.2" fill="#e8c72c" stroke="none"/>
<rect x="34.75" y="349.73" width="9.80" height="1.2" fill="#f0a428" stroke="none"/>
<rect x="44.25" y="349.73" width="5.05" height="1.2" fill="#f57427" stroke="none"/>
<rect x="49.00" y="349.73" width="4.75" height="1.2" fill="#ff0a23" stroke="none"/>
<rect x="30.00" y="338.96" width="38.30" height="1.2" fill="#f57427" stroke="none"/>
<rect x="68.00" y="338.96" width="14.25" height="1.2" fill="#f93424" stroke="none"/>
<rect x="30.00" y="328.19" width="14.55" height="1.2" fill="#e8c72c" stroke="none"/>
<rect x="44.25" y="328.19" width="9.80" height="1.2" fill="#f0a428" stroke="none"/>
<rect x="53.75" y="328.19" width="9.80" height="1.2" fill="#f57427" stroke="none"/>
<rect x="63.25" y="328.19" width="14.55" height="1.2" fill="#f93424" stroke="none"/>
<rect x="77.50" y="328.19" width="4.75" height="1.2" fill="#ff0a23" stroke="none"/>
<rect x="30.00" y="317.41" width="33.55" height="1.2" fill="#e8c72c" stroke="none"/>
<rect x="63.25" y="317.41" width="14.55" height="1.2" fill="#f0a428" stroke="none"/>
<rect x="77.50" y="317.41" width="28.80" height="1.2" fill="#f57427" stroke="none"/>
<rect x="106.00" y="317.41" width="4.75" height="1.2" fill="#ff0a23" stroke="none"/>
<rect x="30.00" y="306.64" width="14.55" height="1.2" fill="#1b5e30" stroke="none"/>
<rect x="44.25" y="306.64" width="14.55" height="1.2" fill="#5f8a2b" stroke="none"/>
<rect x="58.50" y="306.64" width="9.80" height="1.2" fill="#a8b82e" stroke="none"/>
<rect x="68.00" y="306.64" width="19.30" height="1.2" fill="#e8c72c" stroke="none"/>
<rect x="87.00" y="306.64" width="4.75" height="1.2" fill="#f0a428" stroke="none"/>
<rect x="30.00" y="295.87" width="28.80" height="1.2" fill="#f57427" stroke="none"/>
<rect x="58.50" y="295.87" width="28.80" height="1.2" fill="#f93424" stroke="none"/>
<rect x="87.00" y="295.87" width="4.75" height="1.2" fill="#ff0a23" stroke="none"/>
<rect x="30.00" y="285.10" width="9.80" height="1.2" fill="#1b5e30" stroke="none"/>
<rect x="39.50" y="285.10" width="9.80" height="1.2" fill="#5f8a2b" stroke="none"/>
<rect x="49.00" y="285.10" width="9.80" height="1.2" fill="#a8b82e" stroke="none"/>
<rect x="58.50" y="285.10" width="4.75" height="1.2" fill="#e8c72c" stroke="none"/>
<rect x="30.00" y="274.33" width="9.80" height="1.2" fill="#a8b82e" stroke="none"/>
<rect x="39.50" y="274.33" width="5.05" height="1.2" fill="#e8c72c" stroke="none"/>
<rect x="44.25" y="274.33" width="5.05" height="1.2" fill="#f57427" stroke="none"/>
<rect x="49.00" y="274.33" width="4.75" height="1.2" fill="#f93424" stroke="none"/>
<rect x="30.00" y="263.56" width="9.80" height="1.2" fill="#f0a428" stroke="none"/>
<rect x="39.50" y="263.56" width="5.05" height="1.2" fill="#f57427" stroke="none"/>
<rect x="44.25" y="263.56" width="5.05" height="1.2" fill="#f93424" stroke="none"/>
<rect x="49.00" y="263.56" width="4.75" height="1.2" fill="#ff0a23" stroke="none"/>
<rect x="30.00" y="252.79" width="14.55" height="1.2" fill="#a8b82e" stroke="none"/>
<rect x="44.25" y="252.79" width="28.80" height="1.2" fill="#e8c72c" stroke="none"/>
<rect x="72.75" y="252.79" width="33.25" height="1.2" fill="#f0a428" stroke="none"/>
<rect x="30.00" y="242.01" width="14.55" height="1.2" fill="#5f8a2b" stroke="none"/>
<rect x="44.25" y="242.01" width="19.30" height="1.2" fill="#a8b82e" stroke="none"/>
<rect x="63.25" y="242.01" width="9.80" height="1.2" fill="#e8c72c" stroke="none"/>
<rect x="72.75" y="242.01" width="4.75" height="1.2" fill="#f0a428" stroke="none"/>
<rect x="30.00" y="231.24" width="5.05" height="1.2" fill="#a8b82e" stroke="none"/>
<rect x="34.75" y="231.24" width="9.80" height="1.2" fill="#e8c72c" stroke="none"/>
<rect x="44.25" y="231.24" width="9.80" height="1.2" fill="#f0a428" stroke="none"/>
<rect x="53.75" y="231.24" width="9.80" height="1.2" fill="#f57427" stroke="none"/>
<rect x="63.25" y="231.24" width="9.80" height="1.2" fill="#f93424" stroke="none"/>
<rect x="72.75" y="231.24" width="4.75" height="1.2" fill="#ff0a23" stroke="none"/>
<rect x="30.00" y="220.47" width="5.05" height="1.2" fill="#a8b82e" stroke="none"/>
<rect x="34.75" y="220.47" width="9.80" height="1.2" fill="#e8c72c" stroke="none"/>
<rect x="44.25" y="220.47" width="24.05" height="1.2" fill="#f0a428" stroke="none"/>
<rect x="68.00" y="220.47" width="33.55" height="1.2" fill="#f57427" stroke="none"/>
<rect x="101.25" y="220.47" width="4.75" height="1.2" fill="#f93424" stroke="none"/>
<rect x="30.00" y="350.43" width="5.05" height="10.77" fill="#e8c72c" stroke="none"/>
<rect x="34.75" y="350.43" width="9.80" height="10.77" fill="#f0a428" stroke="none"/>
<rect x="44.25" y="350.43" width="5.05" height="10.77" fill="#f57427" stroke="none"/>
<rect x="49.00" y="350.43" width="4.75" height="10.77" fill="#ff0a23" stroke="none"/>
<rect x="30.00" y="339.66" width="38.30" height="10.77" fill="#f57427" stroke="none"/>
<rect x="68.00" y="339.66" width="57.30" height="10.77" fill="#f93424" stroke="none"/>
<rect x="125.00" y="339.66" width="4.75" height="10.77" fill="#ff0a23" stroke="none"/>
<rect x="30.00" y="328.89" width="14.55" height="10.77" fill="#e8c72c" stroke="none"/>
<rect x="44.25" y="328.89" width="9.80" height="10.77" fill="#f0a428" stroke="none"/>
<rect x="53.75" y="328.89" width="9.80" height="10.77" fill="#f57427" stroke="none"/>
<rect x="63.25" y="328.89" width="14.55" height="10.77" fill="#f93424" stroke="none"/>
<rect x="77.50" y="328.89" width="4.75" height="10.77" fill="#ff0a23" stroke="none"/>
<rect x="30.00" y="318.11" width="33.55" height="10.77" fill="#e8c72c" stroke="none"/>
<rect x="63.25" y="318.11" width="14.55" height="10.77" fill="#f0a428" stroke="none"/>
<rect x="77.50" y="318.11" width="28.80" height="10.77" fill="#f57427" stroke="none"/>
<rect x="106.00" y="318.11" width="4.75" height="10.77" fill="#ff0a23" stroke="none"/>
<rect x="30.00" y="307.34" width="14.55" height="10.77" fill="#1b5e30" stroke="none"/>
<rect x="44.25" y="307.34" width="14.55" height="10.77" fill="#5f8a2b" stroke="none"/>
<rect x="58.50" y="307.34" width="9.80" height="10.77" fill="#a8b82e" stroke="none"/>
<rect x="68.00" y="307.34" width="19.30" height="10.77" fill="#e8c72c" stroke="none"/>
<rect x="87.00" y="307.34" width="19.30" height="10.77" fill="#f0a428" stroke="none"/>
<rect x="106.00" y="307.34" width="19.30" height="10.77" fill="#f57427" stroke="none"/>
<rect x="125.00" y="307.34" width="52.55" height="10.77" fill="#f93424" stroke="none"/>
<rect x="177.25" y="307.34" width="4.75" height="10.77" fill="#ff0a23" stroke="none"/>
<rect x="30.00" y="296.57" width="28.80" height="10.77" fill="#f57427" stroke="none"/>
<rect x="58.50" y="296.57" width="28.80" height="10.77" fill="#f93424" stroke="none"/>
<rect x="87.00" y="296.57" width="4.75" height="10.77" fill="#ff0a23" stroke="none"/>
<rect x="30.00" y="285.80" width="9.80" height="10.77" fill="#1b5e30" stroke="none"/>
<rect x="39.50" y="285.80" width="9.80" height="10.77" fill="#5f8a2b" stroke="none"/>
<rect x="49.00" y="285.80" width="9.80" height="10.77" fill="#a8b82e" stroke="none"/>
<rect x="58.50" y="285.80" width="9.80" height="10.77" fill="#e8c72c" stroke="none"/>
<rect x="68.00" y="285.80" width="14.55" height="10.77" fill="#f0a428" stroke="none"/>
<rect x="82.25" y="285.80" width="14.55" height="10.77" fill="#f57427" stroke="none"/>
<rect x="96.50" y="285.80" width="19.30" height="10.77" fill="#f93424" stroke="none"/>
<rect x="115.50" y="285.80" width="4.75" height="10.77" fill="#ff0a23" stroke="none"/>
<rect x="30.00" y="275.03" width="9.80" height="10.77" fill="#a8b82e" stroke="none"/>
<rect x="39.50" y="275.03" width="5.05" height="10.77" fill="#e8c72c" stroke="none"/>
<rect x="44.25" y="275.03" width="5.05" height="10.77" fill="#f57427" stroke="none"/>
<rect x="49.00" y="275.03" width="9.80" height="10.77" fill="#f93424" stroke="none"/>
<rect x="58.50" y="275.03" width="4.75" height="10.77" fill="#ff0a23" stroke="none"/>
<rect x="30.00" y="264.26" width="9.80" height="10.77" fill="#f0a428" stroke="none"/>
<rect x="39.50" y="264.26" width="5.05" height="10.77" fill="#f57427" stroke="none"/>
<rect x="44.25" y="264.26" width="5.05" height="10.77" fill="#f93424" stroke="none"/>
<rect x="49.00" y="264.26" width="4.75" height="10.77" fill="#ff0a23" stroke="none"/>
<rect x="30.00" y="253.49" width="14.55" height="10.77" fill="#a8b82e" stroke="none"/>
<rect x="44.25" y="253.49" width="28.80" height="10.77" fill="#e8c72c" stroke="none"/>
<rect x="72.75" y="253.49" width="71.55" height="10.77" fill="#f0a428" stroke="none"/>
<rect x="144.00" y="253.49" width="42.75" height="10.77" fill="#f57427" stroke="none"/>
<rect x="30.00" y="242.71" width="14.55" height="10.77" fill="#5f8a2b" stroke="none"/>
<rect x="44.25" y="242.71" width="19.30" height="10.77" fill="#a8b82e" stroke="none"/>
<rect x="63.25" y="242.71" width="9.80" height="10.77" fill="#e8c72c" stroke="none"/>
<rect x="72.75" y="242.71" width="9.80" height="10.77" fill="#f0a428" stroke="none"/>
<rect x="82.25" y="242.71" width="5.05" height="10.77" fill="#f57427" stroke="none"/>
<rect x="87.00" y="242.71" width="19.00" height="10.77" fill="#f93424" stroke="none"/>
<rect x="30.00" y="231.94" width="5.05" height="10.77" fill="#a8b82e" stroke="none"/>
<rect x="34.75" y="231.94" width="9.80" height="10.77" fill="#e8c72c" stroke="none"/>
<rect x="44.25" y="231.94" width="9.80" height="10.77" fill="#f0a428" stroke="none"/>
<rect x="53.75" y="231.94" width="9.80" height="10.77" fill="#f57427" stroke="none"/>
<rect x="63.25" y="231.94" width="9.80" height="10.77" fill="#f93424" stroke="none"/>
<rect x="72.75" y="231.94" width="4.75" height="10.77" fill="#ff0a23" stroke="none"/>
<rect x="30.00" y="221.17" width="5.05" height="10.77" fill="#a8b82e" stroke="none"/>
<rect x="34.75" y="221.17" width="9.80" height="10.77" fill="#e8c72c" stroke="none"/>
<rect x="44.25" y="221.17" width="24.05" height="10.77" fill="#f0a428" stroke="none"/>
<rect x="68.00" y="221.17" width="33.55" height="10.77" fill="#f57427" stroke="none"/>
<rect x="101.25" y="221.17" width="104.50" height="10.77" fill="#f93424" stroke="none"/>
<rect x="30.00" y="210.40" width="14.55" height="10.77" fill="#e8c72c" stroke="none"/>
<rect x="44.25" y="210.40" width="14.55" height="10.77" fill="#f0a428" stroke="none"/>
<rect x="58.50" y="210.40" width="14.55" height="10.77" fill="#f57427" stroke="none"/>
<rect x="72.75" y="210.40" width="28.80" height="10.77" fill="#f93424" stroke="none"/>
<rect x="101.25" y="210.40" width="4.75" height="10.77" fill="#ff0a23" stroke="none"/>
<rect x="30.0" y="210.4" width="175.8" height="150.79999999999998" fill="none" stroke="#000" stroke-width="0.9"/>
<line x1="27.0" y1="355.81" x2="30.0" y2="355.81" stroke="#111" stroke-width="0.7"/>
<text x="25.90" y="358.41" text-anchor="end" font-size="6.85">1</text>
<line x1="27.0" y1="345.04" x2="30.0" y2="345.04" stroke="#111" stroke-width="0.7"/>
<text x="25.90" y="347.64" text-anchor="end" font-size="6.85">2</text>
<line x1="27.0" y1="334.27" x2="30.0" y2="334.27" stroke="#111" stroke-width="0.7"/>
<text x="25.90" y="336.87" text-anchor="end" font-size="6.85">3</text>
<line x1="27.0" y1="323.50" x2="30.0" y2="323.50" stroke="#111" stroke-width="0.7"/>
<text x="25.90" y="326.10" text-anchor="end" font-size="6.85">4</text>
<line x1="27.0" y1="312.73" x2="30.0" y2="312.73" stroke="#111" stroke-width="0.7"/>
<text x="25.90" y="315.33" text-anchor="end" font-size="6.85">5</text>
<line x1="27.0" y1="301.96" x2="30.0" y2="301.96" stroke="#111" stroke-width="0.7"/>
<text x="25.90" y="304.56" text-anchor="end" font-size="6.85">6</text>
<line x1="27.0" y1="291.19" x2="30.0" y2="291.19" stroke="#111" stroke-width="0.7"/>
<text x="25.90" y="293.79" text-anchor="end" font-size="6.85">7</text>
<line x1="27.0" y1="280.41" x2="30.0" y2="280.41" stroke="#111" stroke-width="0.7"/>
<text x="25.90" y="283.01" text-anchor="end" font-size="6.85">8</text>
<line x1="27.0" y1="269.64" x2="30.0" y2="269.64" stroke="#111" stroke-width="0.7"/>
<text x="25.90" y="272.24" text-anchor="end" font-size="6.85">9</text>
<line x1="27.0" y1="258.87" x2="30.0" y2="258.87" stroke="#111" stroke-width="0.7"/>
<text x="25.90" y="261.47" text-anchor="end" font-size="6.85">10</text>
<line x1="27.0" y1="248.10" x2="30.0" y2="248.10" stroke="#111" stroke-width="0.7"/>
<text x="25.90" y="250.70" text-anchor="end" font-size="6.85">11</text>
<line x1="27.0" y1="237.33" x2="30.0" y2="237.33" stroke="#111" stroke-width="0.7"/>
<text x="25.90" y="239.93" text-anchor="end" font-size="6.85">12</text>
<line x1="27.0" y1="226.56" x2="30.0" y2="226.56" stroke="#111" stroke-width="0.7"/>
<text x="25.90" y="229.16" text-anchor="end" font-size="6.85">13</text>
<line x1="27.0" y1="215.79" x2="30.0" y2="215.79" stroke="#111" stroke-width="0.7"/>
<text x="25.90" y="218.39" text-anchor="end" font-size="6.85">14</text>
<line x1="51.38" y1="361.2" x2="51.38" y2="363.8" stroke="#111" stroke-width="0.7"/>
<text transform="translate(53.77,365.2) rotate(-90)" text-anchor="end" font-size="7">5</text>
<line x1="75.12" y1="361.2" x2="75.12" y2="363.8" stroke="#111" stroke-width="0.7"/>
<text transform="translate(77.53,365.2) rotate(-90)" text-anchor="end" font-size="7">10</text>
<line x1="98.88" y1="361.2" x2="98.88" y2="363.8" stroke="#111" stroke-width="0.7"/>
<text transform="translate(101.28,365.2) rotate(-90)" text-anchor="end" font-size="7">15</text>
<line x1="122.62" y1="361.2" x2="122.62" y2="363.8" stroke="#111" stroke-width="0.7"/>
<text transform="translate(125.03,365.2) rotate(-90)" text-anchor="end" font-size="7">20</text>
<line x1="146.38" y1="361.2" x2="146.38" y2="363.8" stroke="#111" stroke-width="0.7"/>
<text transform="translate(148.78,365.2) rotate(-90)" text-anchor="end" font-size="7">25</text>
<line x1="170.12" y1="361.2" x2="170.12" y2="363.8" stroke="#111" stroke-width="0.7"/>
<text transform="translate(172.53,365.2) rotate(-90)" text-anchor="end" font-size="7">30</text>
<line x1="193.88" y1="361.2" x2="193.88" y2="363.8" stroke="#111" stroke-width="0.7"/>
<text transform="translate(196.28,365.2) rotate(-90)" text-anchor="end" font-size="7">35</text>
<text x="118.2" y="383.5" text-anchor="middle" font-size="8.28">Number of sets (corkscrew tow-touch )</text>
<text x="102.8" y="391.5" text-anchor="middle" font-size="6.5">(c)</text>
<text transform="translate(10.4,285.4) rotate(-90)" text-anchor="middle" font-size="8.15">Participants</text>
<text x="168.8" y="204.9" font-size="8.3">Self-reported fatigue levels</text>
<rect x="218.6" y="211.8" width="16.0" height="150.8" fill="#fff" stroke="none"/>
<rect x="218.6" y="216.6" width="16.0" height="141.20000000000002" fill="url(#cbg)" stroke="none"/>
<rect x="218.6" y="211.8" width="16.0" height="150.8" fill="none" stroke="#000" stroke-width="0.9"/>
<line x1="218.6" y1="216.6" x2="234.6" y2="216.6" stroke="#111" stroke-width="0.5"/>
<line x1="218.6" y1="357.8" x2="234.6" y2="357.8" stroke="#111" stroke-width="0.5"/>
<line x1="234.6" y1="216.60" x2="236.6" y2="216.60" stroke="#111" stroke-width="0.7"/>
<text x="239.1" y="218.80" font-size="6.3">8.000</text>
<line x1="234.6" y1="244.84" x2="236.6" y2="244.84" stroke="#111" stroke-width="0.7"/>
<text x="239.1" y="247.04" font-size="6.3">6.600</text>
<line x1="234.6" y1="273.08" x2="236.6" y2="273.08" stroke="#111" stroke-width="0.7"/>
<text x="239.1" y="275.28" font-size="6.3">5.200</text>
<line x1="234.6" y1="301.32" x2="236.6" y2="301.32" stroke="#111" stroke-width="0.7"/>
<text x="239.1" y="303.52" font-size="6.3">3.800</text>
<line x1="234.6" y1="329.56" x2="236.6" y2="329.56" stroke="#111" stroke-width="0.7"/>
<text x="239.1" y="331.76" font-size="6.3">2.400</text>
<line x1="234.6" y1="357.80" x2="236.6" y2="357.80" stroke="#111" stroke-width="0.7"/>
<text x="239.1" y="360.00" font-size="6.3">1.000</text>
</svg>
</body></html>
